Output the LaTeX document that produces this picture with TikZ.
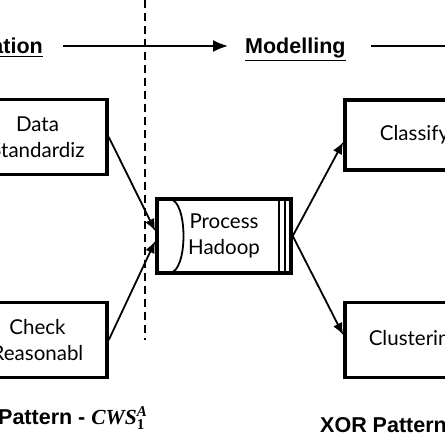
\documentclass[tikz,border=0pt]{standalone}
\usepackage{fontspec}
\usepackage{amsmath}
\usetikzlibrary{arrows.meta}
\usetikzlibrary{calc}
\newfontfamily\boxfont{Lato}
\newfontfamily\headfont{Liberation Sans}
\newfontfamily\mathish{Liberation Serif}

\begin{document}
\begin{tikzpicture}[x=1pt, y=-1pt,
  line/.style={-{Latex[length=12pt,width=10pt]}, line width=1.8pt},
  box/.style={draw, line width=3.5pt, minimum width=139pt, minimum height=75pt,
    align=center, font=\boxfont\fontsize{20.5}{26}\selectfont},
  head/.style={inner sep=0pt, font=\headfont\bfseries\fontsize{21.5}{26}\selectfont}]
\useasboundingbox (0,0) rectangle (445,445);
\clip (0,0) rectangle (445,445);

\coordinate (top) at (145,0);
\coordinate (bot) at (145,340);
\coordinate (ax) at (0,46);
\coordinate (next) at (470,46);

%\draw[step=10pt, color=black!10] (0,0) grid (445,445);
\draw[line width=2pt, dash pattern=on 8pt off 5pt] (top) -- (bot);

\node (prep) at (43,53) [head, anchor=base east] {\underline{ation}};
\node (model) at (245,53) [head, anchor=base west] {\underline{Modelling}};
\draw[-{Latex[length=15pt,width=12pt]}, line width=1.8pt, shorten <=20pt, shorten >=17pt]
  (prep.east |- ax) -- (model.west |- ax);
\draw[line width=1.8pt, shorten <=25pt] (model.east |- ax) -- (next);

\node (data) at (37.5,137) [box] {Data\\Standardiz};
\node (check) at (37.5,340) [box] {Check\\Reasonabl};
\node (proc) at (224,236) [box, minimum width=134pt, minimum height=74pt] {Process\\Hadoop};
\node (cls) at (414.5,135) [box, minimum height=70pt] {Classify};
\node (clu) at (414.5,340) [box] {Clusterin\phantom{g}};

% store symbol on the process box
\draw[line width=1.8pt] ($(proc.north west)+(14,1.8)$) .. controls ($(proc.north west)+(33,1.8)$)
  and ($(proc.south west)+(33,-1.8)$) .. ($(proc.south west)+(14,-1.8)$);
\draw[line width=1.8pt] ($(proc.north east)+(-14,1.8)$) -- ($(proc.south east)+(-14,-1.8)$);
\draw[line width=1.8pt] ($(proc.north east)+(-8,1.8)$) -- ($(proc.south east)+(-8,-1.8)$);

\draw[line] (data.east) -- ($(proc.west)+(0,-5)$);
\draw[line] (check.east) -- ($(proc.west)+(0,5)$);
\draw[line] (proc.east) -- ($(cls.west)+(0,7)$);
\draw[line] (proc.east) -- ($(clu.west)+(0,-5)$);

\node (cws) at (-2,424) [head, anchor=base west]
  {Pattern - {\mathish\bfseries\itshape CWS$^{\text{A}}_{\text{\upshape 1}}$}};
\node (xor) at (320,432) [head, anchor=base west] {XOR Pattern};

\end{tikzpicture}
\end{document}
